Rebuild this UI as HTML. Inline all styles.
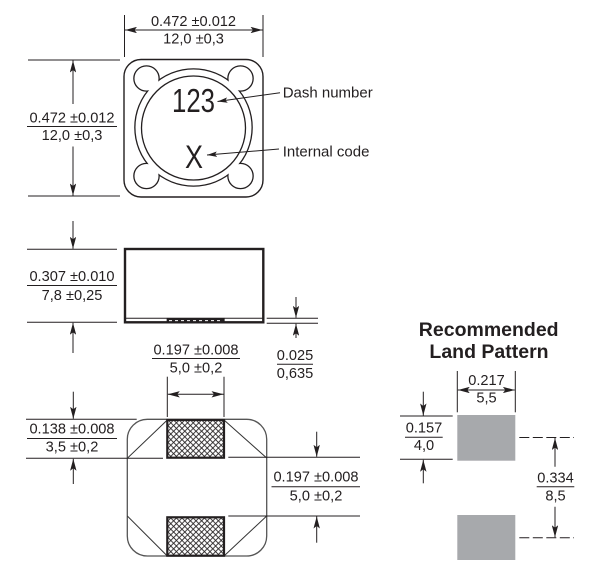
<!DOCTYPE html>
<html><head><meta charset="utf-8"><style>
html,body{margin:0;padding:0;background:#fff;}
svg{display:block;}
text{font-family:"Liberation Sans",Arial,sans-serif;fill:#231f20;}
.d{font-size:14.6px;}
</style></head><body>
<svg width="606" height="574" viewBox="0 0 606 574" xmlns="http://www.w3.org/2000/svg">
<defs>
<marker id="a" viewBox="0 0 12 6.4" refX="12" refY="3.2" markerWidth="12" markerHeight="6.4" markerUnits="userSpaceOnUse" orient="auto-start-reverse">
<path d="M0,0 L12,3.2 L0,6.4 L2.5,3.2 z" fill="#231f20"/>
</marker>
<marker id="s" viewBox="0 0 10 5.4" refX="10" refY="2.7" markerWidth="10" markerHeight="5.4" markerUnits="userSpaceOnUse" orient="auto">
<path d="M0,0 L10,2.7 L0,5.4 L2,2.7 z" fill="#231f20"/>
</marker>
<pattern id="h" width="5.6" height="5.6" patternUnits="userSpaceOnUse">
<rect width="5.6" height="5.6" fill="#fff"/>
<path d="M0,0 L5.6,5.6 M5.6,0 L0,5.6" stroke="#231f20" stroke-width="0.9"/>
</pattern>
</defs>
<g stroke="#231f20" stroke-width="1" fill="none">
<!-- TOP VIEW -->
<line x1="124.5" y1="15" x2="124.5" y2="57"/>
<line x1="263" y1="15" x2="263" y2="57"/>
<line x1="125" y1="30" x2="262.5" y2="30" marker-start="url(#a)" marker-end="url(#a)"/>
<line x1="28" y1="60" x2="120" y2="60"/>
<line x1="28" y1="196" x2="120" y2="196"/>
<line x1="73" y1="104" x2="73" y2="60.5" marker-end="url(#a)"/>
<line x1="73" y1="146.5" x2="73" y2="195.5" marker-end="url(#a)"/>
<line x1="27" y1="126.5" x2="117" y2="126.5"/>
<rect x="124" y="59.5" width="139" height="137.5" rx="17" stroke-width="1.4"/>
<!-- union shape -->
<g stroke-width="2.6">
<circle cx="193.5" cy="127.5" r="58"/>
<circle cx="146.5" cy="78.5" r="12"/>
<circle cx="240.5" cy="78.5" r="12"/>
<circle cx="146.5" cy="176" r="12"/>
<circle cx="240.5" cy="176" r="12"/>
</g>
<g fill="#fff" stroke="none">
<circle cx="193.5" cy="127.5" r="58"/>
<circle cx="146.5" cy="78.5" r="12"/>
<circle cx="240.5" cy="78.5" r="12"/>
<circle cx="146.5" cy="176" r="12"/>
<circle cx="240.5" cy="176" r="12"/>
</g>
<circle cx="193.5" cy="128" r="52" stroke-width="1.3"/>
<line x1="280" y1="92.7" x2="217.5" y2="101.5" marker-end="url(#s)"/>
<line x1="279" y1="149" x2="207" y2="155" marker-end="url(#s)"/>

<!-- SIDE VIEW -->
<line x1="73" y1="221" x2="73" y2="248.8" marker-end="url(#a)"/>
<line x1="27" y1="249.3" x2="117" y2="249.3"/>
<line x1="27" y1="322.3" x2="117" y2="322.3"/>
<line x1="73" y1="353" x2="73" y2="322.8" marker-end="url(#a)"/>
<line x1="27" y1="285.5" x2="117" y2="285.5"/>
<rect x="125" y="249" width="138.3" height="73.3" stroke-width="2.4"/>
<line x1="125" y1="318.3" x2="263" y2="318.3" stroke-width="1"/>
<rect x="167.3" y="318.6" width="56.7" height="4" stroke-width="1.3" fill="#231f20"/>
<line x1="169" y1="320.6" x2="223" y2="320.6" stroke="#fff" stroke-width="1" stroke-dasharray="3 3"/>
<line x1="266.7" y1="318.3" x2="318" y2="318.3"/>
<line x1="266.7" y1="323.3" x2="318" y2="323.3"/>
<line x1="296" y1="297" x2="296" y2="317.8" marker-end="url(#a)"/>
<line x1="296" y1="338" x2="296" y2="323.8" marker-end="url(#a)"/>
<line x1="277" y1="364.3" x2="313" y2="364.3"/>
<line x1="152" y1="358.5" x2="240" y2="358.5"/>
<line x1="167.3" y1="376.7" x2="167.3" y2="417"/>
<line x1="224" y1="376.7" x2="224" y2="417"/>
<line x1="167.8" y1="394.3" x2="223.5" y2="394.3" marker-start="url(#a)" marker-end="url(#a)"/>

<!-- BOTTOM VIEW -->
<rect x="127.3" y="419.3" width="139.4" height="136.7" rx="20" stroke="#555" stroke-width="1.3"/>
<line x1="127.3" y1="458.3" x2="167.3" y2="420" stroke="#333"/>
<line x1="224" y1="420" x2="266.7" y2="458" stroke="#333"/>
<line x1="127.3" y1="516" x2="167.3" y2="556" stroke="#333"/>
<line x1="266.7" y1="516" x2="224" y2="556" stroke="#333"/>
<rect x="167.3" y="420" width="56.7" height="37.7" fill="url(#h)" stroke-width="2.2"/>
<rect x="167.3" y="517.3" width="56.7" height="38.4" fill="url(#h)" stroke-width="2.2"/>
<line x1="26" y1="419.3" x2="136.7" y2="419.3"/>
<line x1="26" y1="458.3" x2="163" y2="458.3"/>
<line x1="73.3" y1="391.7" x2="73.3" y2="418.8" marker-end="url(#a)"/>
<line x1="73.3" y1="484" x2="73.3" y2="458.8" marker-end="url(#a)"/>
<line x1="27" y1="438.5" x2="117" y2="438.5"/>
<line x1="228.3" y1="457.3" x2="360" y2="457.3"/>
<line x1="228.3" y1="516" x2="360" y2="516"/>
<line x1="316.7" y1="431.7" x2="316.7" y2="456.8" marker-end="url(#a)"/>
<line x1="316.7" y1="542.7" x2="316.7" y2="516.5" marker-end="url(#a)"/>
<line x1="271.5" y1="486.8" x2="360" y2="486.8"/>

<!-- LAND PATTERN -->
<line x1="457.3" y1="371" x2="457.3" y2="412.3"/>
<line x1="515.3" y1="371" x2="515.3" y2="412.3"/>
<line x1="457.8" y1="390" x2="514.8" y2="390" marker-start="url(#a)" marker-end="url(#a)"/>
<rect x="457.3" y="415" width="58" height="45.7" fill="#a7a9ac" stroke="none"/>
<rect x="457.3" y="515" width="58" height="45" fill="#a7a9ac" stroke="none"/>
<line x1="400" y1="416" x2="452.7" y2="416"/>
<line x1="400" y1="459.3" x2="452.7" y2="459.3"/>
<line x1="423.3" y1="391.7" x2="423.3" y2="415.5" marker-end="url(#a)"/>
<line x1="423.3" y1="483.3" x2="423.3" y2="459.8" marker-end="url(#a)"/>
<line x1="405" y1="437.3" x2="442.7" y2="437.3"/>
<line x1="519.3" y1="437.5" x2="574" y2="437.5" stroke-dasharray="10 3.5"/>
<line x1="519.3" y1="537.7" x2="574" y2="537.7" stroke-dasharray="10 3.5"/>
<line x1="555" y1="466.7" x2="555" y2="438" marker-end="url(#a)"/>
<line x1="555" y1="506.7" x2="555" y2="537.2" marker-end="url(#a)"/>
<line x1="536.7" y1="486.7" x2="574.3" y2="486.7"/>
</g>

<g class="d" text-anchor="middle">
<text x="193.5" y="26">0.472 ±0.012</text>
<text x="193.5" y="43.5">12,0 ±0,3</text>
<text x="72" y="122.5">0.472 ±0.012</text>
<text x="72" y="140">12,0 ±0,3</text>
<text x="72" y="281">0.307 ±0.010</text>
<text x="72" y="300">7,8 ±0,25</text>
<text x="295" y="360">0.025</text>
<text x="295" y="378">0,635</text>
<text x="196" y="354.3">0.197 ±0.008</text>
<text x="196" y="372.3">5,0 ±0,2</text>
<text x="72" y="433.3">0.138 ±0.008</text>
<text x="72" y="451.7">3,5 ±0,2</text>
<text x="316" y="481.7">0.197 ±0.008</text>
<text x="316" y="500.7">5,0 ±0,2</text>
<text x="486.5" y="385">0.217</text>
<text x="486.5" y="402.7">5,5</text>
<text x="424" y="432.7">0.157</text>
<text x="424" y="450">4,0</text>
<text x="555.5" y="482.7">0.334</text>
<text x="555.5" y="500.7">8,5</text>
</g>
<text x="172" y="112" font-size="33" textLength="43" lengthAdjust="spacingAndGlyphs">123</text>
<text x="185" y="168" font-size="32" textLength="18" lengthAdjust="spacingAndGlyphs">X</text>
<text x="282.7" y="97.5" font-size="15">Dash number</text>
<text x="282.7" y="156.5" font-size="15">Internal code</text>
<text x="488.7" y="336" font-size="19.5" font-weight="bold" text-anchor="middle">Recommended</text>
<text x="489" y="358" font-size="19.5" font-weight="bold" text-anchor="middle">Land Pattern</text>
</svg>
</body></html>
